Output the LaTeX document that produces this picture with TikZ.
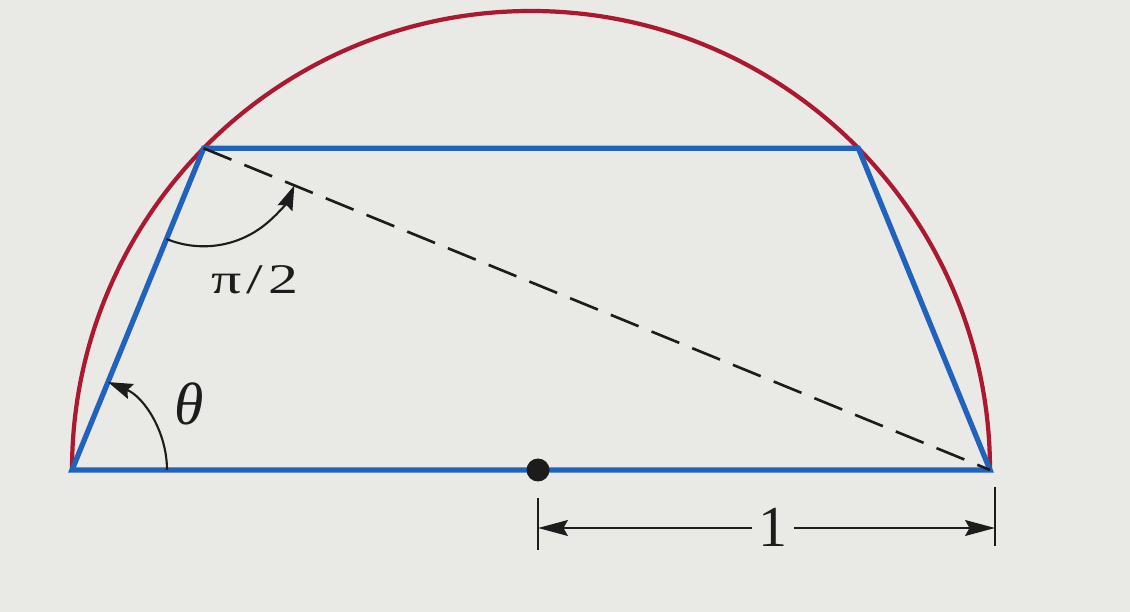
\documentclass[tikz,border=0pt]{standalone}
\usepackage{fontspec}
\setmainfont{Liberation Serif}
\usetikzlibrary{arrows.meta,calc}
\definecolor{paper}{RGB}{233,233,229}
\definecolor{cblue}{RGB}{32,98,188}
\definecolor{cred}{RGB}{170,25,48}
\definecolor{ink}{RGB}{28,28,28}
\begin{document}
\begin{tikzpicture}[x=0.02cm,y=0.02cm,
  semi/.style={draw=cred, line width=2.4pt},
  trap/.style={draw=cblue, line width=3pt, line join=miter},
  diag/.style={draw=ink, line width=1.5pt, dash pattern=on 0.6cm off 0.28cm},
  anglearc/.style={draw=ink, line width=1.2pt, -{Stealth[length=14pt,width=9pt,inset=2pt]}},
  dimline/.style={draw=ink, line width=1.3pt, -{Stealth[length=17pt,width=9pt,inset=2.5pt]}},
  tickline/.style={draw=ink, line width=1.5pt},
  lbl/.style={inner sep=0pt, text=ink}]
\fill[paper] (0,0) rectangle (1130,612);
\useasboundingbox (0,0) rectangle (1130,612);
\coordinate (O) at (531,142);
\coordinate (P) at (72,142);
\coordinate (Q) at (990,142);
\coordinate (A) at ($(O)+(135.5:459)$);
\coordinate (B) at ($(O)+(44.5:459)$);
\draw[semi] (Q) arc[start angle=0,end angle=180,radius=459];
\draw[trap] (P) -- (Q) -- (B) -- (A) -- cycle;
\draw[diag] (A) -- (Q);
\draw[anglearc] ($(A)+(247.74:98)$) arc[start angle=247.74, end angle=337.76, radius=98];
\draw[anglearc] ($(P)+(0:95)$) arc[start angle=0, end angle=67.74, radius=95];
\node[circle, fill=ink, inner sep=0pt, minimum size=0.46cm] (ctr) at (538,142) {};
\node[lbl, font=\fontsize{24}{28}\selectfont] (pilabel) at (255,332) {\scalebox{1.42}[1]{π\kern2pt/\kern2pt2}};
\node[lbl, font=\fontsize{34}{40}\selectfont\itshape] (theta) at (189,208) {θ};
\coordinate (LT) at (538,114);
\coordinate (LB) at (538,62);
\coordinate (RT) at (995,125);
\coordinate (RB) at (995,66);
\coordinate (L) at (538,84);
\coordinate (R) at (995,84);
\draw[tickline] (LT) -- (LB);
\draw[tickline] (RT) -- (RB);
\node[lbl, font=\fontsize{33}{40}\selectfont, outer xsep=0.13cm] (one) at (773,85) {1};
\draw[dimline] (one.west |- L) -- (L);
\draw[dimline] (one.east |- R) -- (R);
\end{tikzpicture}
\end{document}
